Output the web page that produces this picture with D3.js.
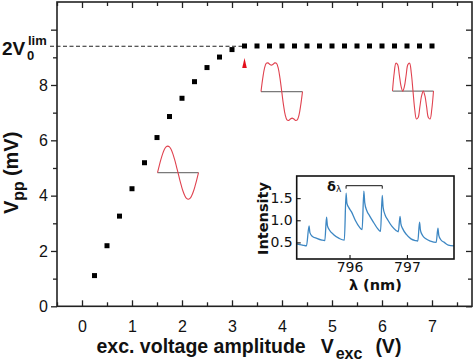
<!DOCTYPE html>
<html><head><meta charset="utf-8">
<script src="https://cdn.jsdelivr.net/npm/d3@7"></script>
<style>
html,body{margin:0;padding:0;background:#fff;}
svg{display:block;}
</style></head>
<body>
<svg id="chart" width="474" height="362"></svg>
<script>
// ---------- DATA ----------
const excVoltage = [0.25,0.5,0.75,1.0,1.25,1.5,1.75,2.0,2.25,2.5,2.75,3.0,
  3.25,3.5,3.75,4.0,4.25,4.5,4.75,5.0,5.25,5.5,5.75,6.0,6.25,6.5,6.75,7.0];
const vpp = [1.11,2.19,3.26,4.25,5.19,6.10,6.86,7.52,8.12,8.63,9.01,9.28,
  9.41,9.41,9.41,9.41,9.41,9.41,9.41,9.41,9.41,9.41,9.41,9.41,9.41,9.41,9.41,9.41];
const vLim = 9.40;
const xTickValues = [0,1,2,3,4,5,6,7];
const xTickLabels = ["0","1","2","3","4","5","6","7"];
const yTickValues = [0,2,4,6,8];
const yTickLabels = ["0","2","4","6","8"];

// inset spectrum (wavelength nm, intensity)
const specLambda = [795.08,795.18,795.25,795.295,795.31,795.35,795.43,795.52,795.57,
  795.60,795.615,795.65,795.72,795.82,795.91,
  795.94,795.955,795.99,796.03,796.10,796.17,796.22,
  796.25,796.265,796.30,796.35,796.42,796.49,796.54,
  796.57,796.585,796.62,796.67,796.74,796.81,796.85,
  796.88,796.895,796.93,796.99,797.07,797.15,797.19,
  797.22,797.235,797.27,797.33,797.41,797.51,
  797.54,797.555,797.59,797.65,797.72,797.82];
const specIntensity = [0.46,0.44,0.42,0.87,0.72,0.64,0.59,0.55,0.54,
  1.07,0.88,0.78,0.68,0.59,0.55,
  1.61,1.38,1.28,1.20,1.00,0.85,0.79,
  1.66,1.40,1.22,1.10,0.95,0.81,0.75,
  1.56,1.30,1.12,1.00,0.86,0.77,0.74,
  1.09,0.92,0.80,0.68,0.58,0.54,0.53,
  0.96,0.78,0.66,0.58,0.53,0.50,
  0.82,0.66,0.56,0.50,0.44,0.42];
const insetXTicks = [796,797];
const insetYTicks = [0.5,1.0,1.5];
const insetYTickLabels = ["0.5","1.0","1.5"];

// schematic waveforms, sampled every 15 degrees over one period
const waveSine = [0,0.26,0.5,0.71,0.87,0.97,1,0.97,0.87,0.71,0.5,0.26,0,
  -0.26,-0.5,-0.71,-0.87,-0.97,-1,-0.97,-0.87,-0.71,-0.5,-0.26,0];
const waveFlat = [0,0.46,0.81,0.98,1.0,0.95,0.92,0.95,1.0,0.98,0.81,0.46,0,
  -0.46,-0.81,-0.98,-1.0,-0.95,-0.92,-0.95,-1.0,-0.98,-0.81,-0.46,0];
const waveDouble = [0,0.63,0.97,0.92,0.56,0.17,0,0.17,0.56,0.92,0.97,0.63,0,
  -0.63,-0.97,-0.92,-0.56,-0.17,0,-0.17,-0.56,-0.92,-0.97,-0.63,0];

// ---------- LAYOUT ----------
const svg = d3.select("#chart");
const L = 57, R = 472, T = 2, B = 306.3;
const x = d3.scaleLinear().domain([-0.5, 7.8]).range([L, R]);
const y = d3.scaleLinear().domain([0, 11]).range([B, T]);
const mainFont = "'Liberation Sans', Arial, Helvetica, sans-serif";
const axisColor = "#222";

// frame
svg.append("rect").attr("x", L).attr("y", T).attr("width", R - L).attr("height", B - T)
  .attr("fill", "none").attr("stroke", axisColor).attr("stroke-width", 1.6);

function styleAxis(g) {
  g.select(".domain").remove();
  g.selectAll(".tick line").attr("stroke", axisColor).attr("stroke-width", 1.3);
  g.selectAll(".tick text").attr("font-family", mainFont).attr("font-size", 16).attr("fill", "#111");
}
const minorX = d3.range(-0.5, 7.8, 0.5).filter(v => Math.abs(v - Math.round(v)) > 0.1);
const minorY = [1,3,5,7,9];

// bottom axis (ticks inward)
svg.append("g").attr("transform", `translate(0,${B})`)
  .call(d3.axisBottom(x).tickValues(xTickValues).tickFormat((d,i)=>xTickLabels[i]).tickSizeInner(-6).tickPadding(14))
  .call(styleAxis);
svg.append("g").attr("transform", `translate(0,${B})`)
  .call(d3.axisBottom(x).tickValues(minorX).tickFormat("").tickSizeInner(-4)).call(styleAxis);
// top axis (ticks inward)
svg.append("g").attr("transform", `translate(0,${T})`)
  .call(d3.axisTop(x).tickValues(xTickValues).tickFormat("").tickSizeInner(-6)).call(styleAxis);
svg.append("g").attr("transform", `translate(0,${T})`)
  .call(d3.axisTop(x).tickValues(minorX).tickFormat("").tickSizeInner(-4)).call(styleAxis);
// left axis (ticks outward)
svg.append("g").attr("transform", `translate(${L},0)`)
  .call(d3.axisLeft(y).tickValues(yTickValues).tickFormat((d,i)=>yTickLabels[i]).tickSizeInner(6).tickPadding(3))
  .call(styleAxis);
svg.append("g").attr("transform", `translate(${L},0)`)
  .call(d3.axisLeft(y).tickValues([10]).tickFormat("").tickSizeInner(6)).call(styleAxis);
svg.append("g").attr("transform", `translate(${L},0)`)
  .call(d3.axisLeft(y).tickValues(minorY).tickFormat("").tickSizeInner(4)).call(styleAxis);
// right axis (ticks inward)
svg.append("g").attr("transform", `translate(${R},0)`)
  .call(d3.axisRight(y).tickValues([0,2,4,6,8,10]).tickFormat("").tickSizeInner(-6)).call(styleAxis);
svg.append("g").attr("transform", `translate(${R},0)`)
  .call(d3.axisRight(y).tickValues(minorY).tickFormat("").tickSizeInner(-4)).call(styleAxis);

// dashed limit line
svg.append("line").attr("x1", 50).attr("x2", x(3.2)).attr("y1", y(vLim)).attr("y2", y(vLim))
  .attr("stroke", "#222").attr("stroke-width", 1).attr("stroke-dasharray", "4,2.5");

// limit label 2V0^lim
svg.append("text").attr("x", 2).attr("y", 55).attr("font-family", mainFont)
  .attr("font-weight", "bold").attr("font-size", 19).attr("fill", "#111").text("2V");
svg.append("text").attr("x", 27).attr("y", 60).attr("font-family", mainFont)
  .attr("font-weight", "bold").attr("font-size", 13).attr("fill", "#111").text("0");
svg.append("text").attr("x", 28).attr("y", 45).attr("font-family", mainFont)
  .attr("font-weight", "bold").attr("font-size", 13).attr("fill", "#111").text("lim");

// data squares
const sq = 5;
svg.append("g").selectAll("rect").data(excVoltage).join("rect")
  .attr("x", (d) => x(d) - sq/2).attr("y", (d,i) => y(vpp[i]) - sq/2)
  .attr("width", sq).attr("height", sq).attr("fill", "#000");

// red arrow at onset of saturation
const ax = x(3.25);
svg.append("path").attr("d", `M${ax},58 L${ax+2.3},68 L${ax-2.3},68 Z`).attr("fill", "#e3101c");

// schematic waveforms
function drawWave(vals, x0, x1, yc, amp) {
  const wx = d3.scaleLinear().domain([0, vals.length - 1]).range([x(x0), x(x1)]);
  const wy = d3.scaleLinear().domain([-1, 1]).range([y(yc - amp), y(yc + amp)]);
  svg.append("line").attr("x1", wx(0)).attr("x2", wx(vals.length - 1))
    .attr("y1", wy(0)).attr("y2", wy(0)).attr("stroke", "#7a7a7a").attr("stroke-width", 1.3);
  svg.append("path").datum(vals)
    .attr("d", d3.line().x((d,i) => wx(i)).y(d => wy(d)).curve(d3.curveCatmullRom))
    .attr("fill", "none").attr("stroke", "#e0424f").attr("stroke-width", 1.1);
}
drawWave(waveSine, 1.51, 2.33, 4.83, 0.96);
drawWave(waveFlat, 3.58, 4.41, 7.76, 1.04);
drawWave(waveDouble, 6.21, 7.03, 7.78, 1.04);

// axis titles
svg.append("text").attr("x", 96.5).attr("y", 353).attr("font-family", mainFont)
  .attr("font-weight", "bold").attr("font-size", 19.5).attr("fill", "#111")
  .call(t => {
    t.append("tspan").text("exc. voltage amplitude");
    t.append("tspan").attr("dx", 15).text("V");
    t.append("tspan").attr("dx", 2).attr("dy", 6).attr("font-size", 16).text("exc");
    t.append("tspan").attr("dx", 13).attr("dy", -6).text("(V)");
  });
svg.append("text").attr("transform", "translate(18,214) rotate(-90)")
  .attr("font-family", mainFont).attr("font-weight", "bold").attr("font-size", 20).attr("fill", "#111")
  .call(t => {
    t.append("tspan").text("V");
    t.append("tspan").attr("dy", 6).attr("font-size", 16).text("pp");
    t.append("tspan").attr("dy", -6).attr("dx", 5).text("(mV)");
  });

// ---------- INSET ----------
const iL = 296.7, iR = 454, iT = 176, iB = 259;
const ix = d3.scaleLinear().domain([795.08, 797.82]).range([iL, iR]);
const iy = d3.scaleLinear().domain([0.125, 2.0]).range([iB, iT]);
const insetFont = "'DejaVu Sans', Verdana, sans-serif";
svg.append("rect").attr("x", iL).attr("y", iT).attr("width", iR - iL).attr("height", iB - iT)
  .attr("fill", "#fff").attr("stroke", "none");
svg.append("path").datum(specLambda)
  .attr("d", d3.line().x(d => ix(d)).y((d,i) => iy(specIntensity[i])).curve(d3.curveMonotoneX))
  .attr("fill", "none").attr("stroke", "#3d87c3").attr("stroke-width", 1.3);
function styleInset(g) {
  g.select(".domain").remove();
  g.selectAll(".tick line").attr("stroke", "#111").attr("stroke-width", 1.1);
  g.selectAll(".tick text").attr("font-family", insetFont).attr("font-size", 14).attr("fill", "#111");
}
svg.append("g").attr("transform", `translate(0,${iB})`)
  .call(d3.axisBottom(ix).tickValues(insetXTicks).tickFormat(d3.format("d")).tickSizeInner(-4).tickPadding(3))
  .call(styleInset);
svg.append("g").attr("transform", `translate(${iL},0)`)
  .call(d3.axisLeft(iy).tickValues(insetYTicks).tickFormat((d,i)=>insetYTickLabels[i]).tickSizeInner(-4).tickPadding(4))
  .call(styleInset);
svg.append("rect").attr("x", iL).attr("y", iT).attr("width", iR - iL).attr("height", iB - iT)
  .attr("fill", "none").attr("stroke", "#111").attr("stroke-width", 1.6);
svg.append("text").attr("x", (iL + iR) / 2).attr("y", 290).attr("text-anchor", "middle")
  .attr("font-family", insetFont).attr("font-weight", "bold").attr("font-size", 14.5).attr("fill", "#111")
  .text("λ (nm)");
svg.append("text").attr("transform", `translate(268,${(iT + iB) / 2 + 1}) rotate(-90)`).attr("text-anchor", "middle")
  .attr("font-family", insetFont).attr("font-weight", "bold").attr("font-size", 14.5).attr("fill", "#111")
  .text("Intensity");
// delta-lambda bracket
const bx0 = ix(795.94), bx1 = ix(796.57), by = 185.7;
svg.append("path").attr("d", `M${bx0},${by+3} L${bx0},${by} L${bx1},${by} L${bx1},${by+3}`)
  .attr("fill", "none").attr("stroke", "#111").attr("stroke-width", 1);
svg.append("text").attr("x", 327).attr("y", 191).attr("font-family", insetFont)
  .attr("font-size", 13).attr("font-weight", "bold").attr("fill", "#111")
  .call(t => {
    t.append("tspan").text("δ");
    t.append("tspan").attr("font-size", 9).attr("font-weight", "normal").attr("dy", 1).text("λ");
  });
</script>
</body></html>
